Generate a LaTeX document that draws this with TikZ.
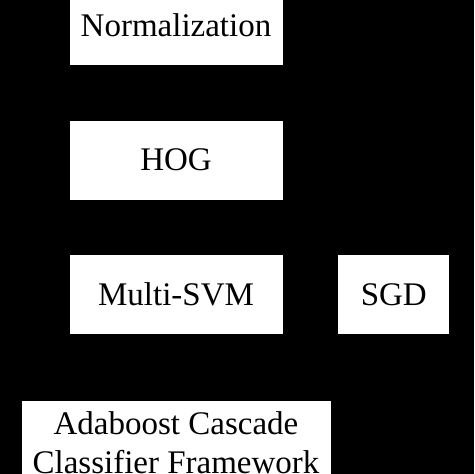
\documentclass[tikz,border=0pt]{standalone}
\usepackage{fontspec}
\setmainfont{Liberation Serif}
\usetikzlibrary{positioning}
\tikzset{
	block/.style={draw=black, fill=white, inner sep=0pt, minimum height=40pt, align=center, font=\fontsize{16.5}{19.5}\selectfont},
	flow/.style={->, black, thick}
}
\begin{document}
\begin{tikzpicture}[x=0.5pt, y=-0.5pt]
	
	% background
	\fill[black] (0,0) rectangle (474,474);
	\useasboundingbox (0,0) rectangle (474,474);
	
	% blocks
	\node[block, minimum width=107pt] (norm) at (176,25) {Normalization};
	\node[block, minimum width=107pt] (hog) at (176,160) {HOG};
	\node[block, minimum width=107pt] (svm) at (176,294.5) {Multi-SVM};
	\node[block, minimum width=56pt, right=27pt of svm] (sgd) {SGD};
	\node[block, minimum width=155pt, minimum height=43pt] (ada) at (176,443) {Adaboost Cascade\\Classifier Framework};
	
	% arrows
	\draw[flow] (norm) -- (hog);
	\draw[flow] (hog) -- (svm);
	\draw[flow] (sgd) -- (svm);
	\draw[flow] (svm) -- (ada);
	
\end{tikzpicture}
\end{document}
